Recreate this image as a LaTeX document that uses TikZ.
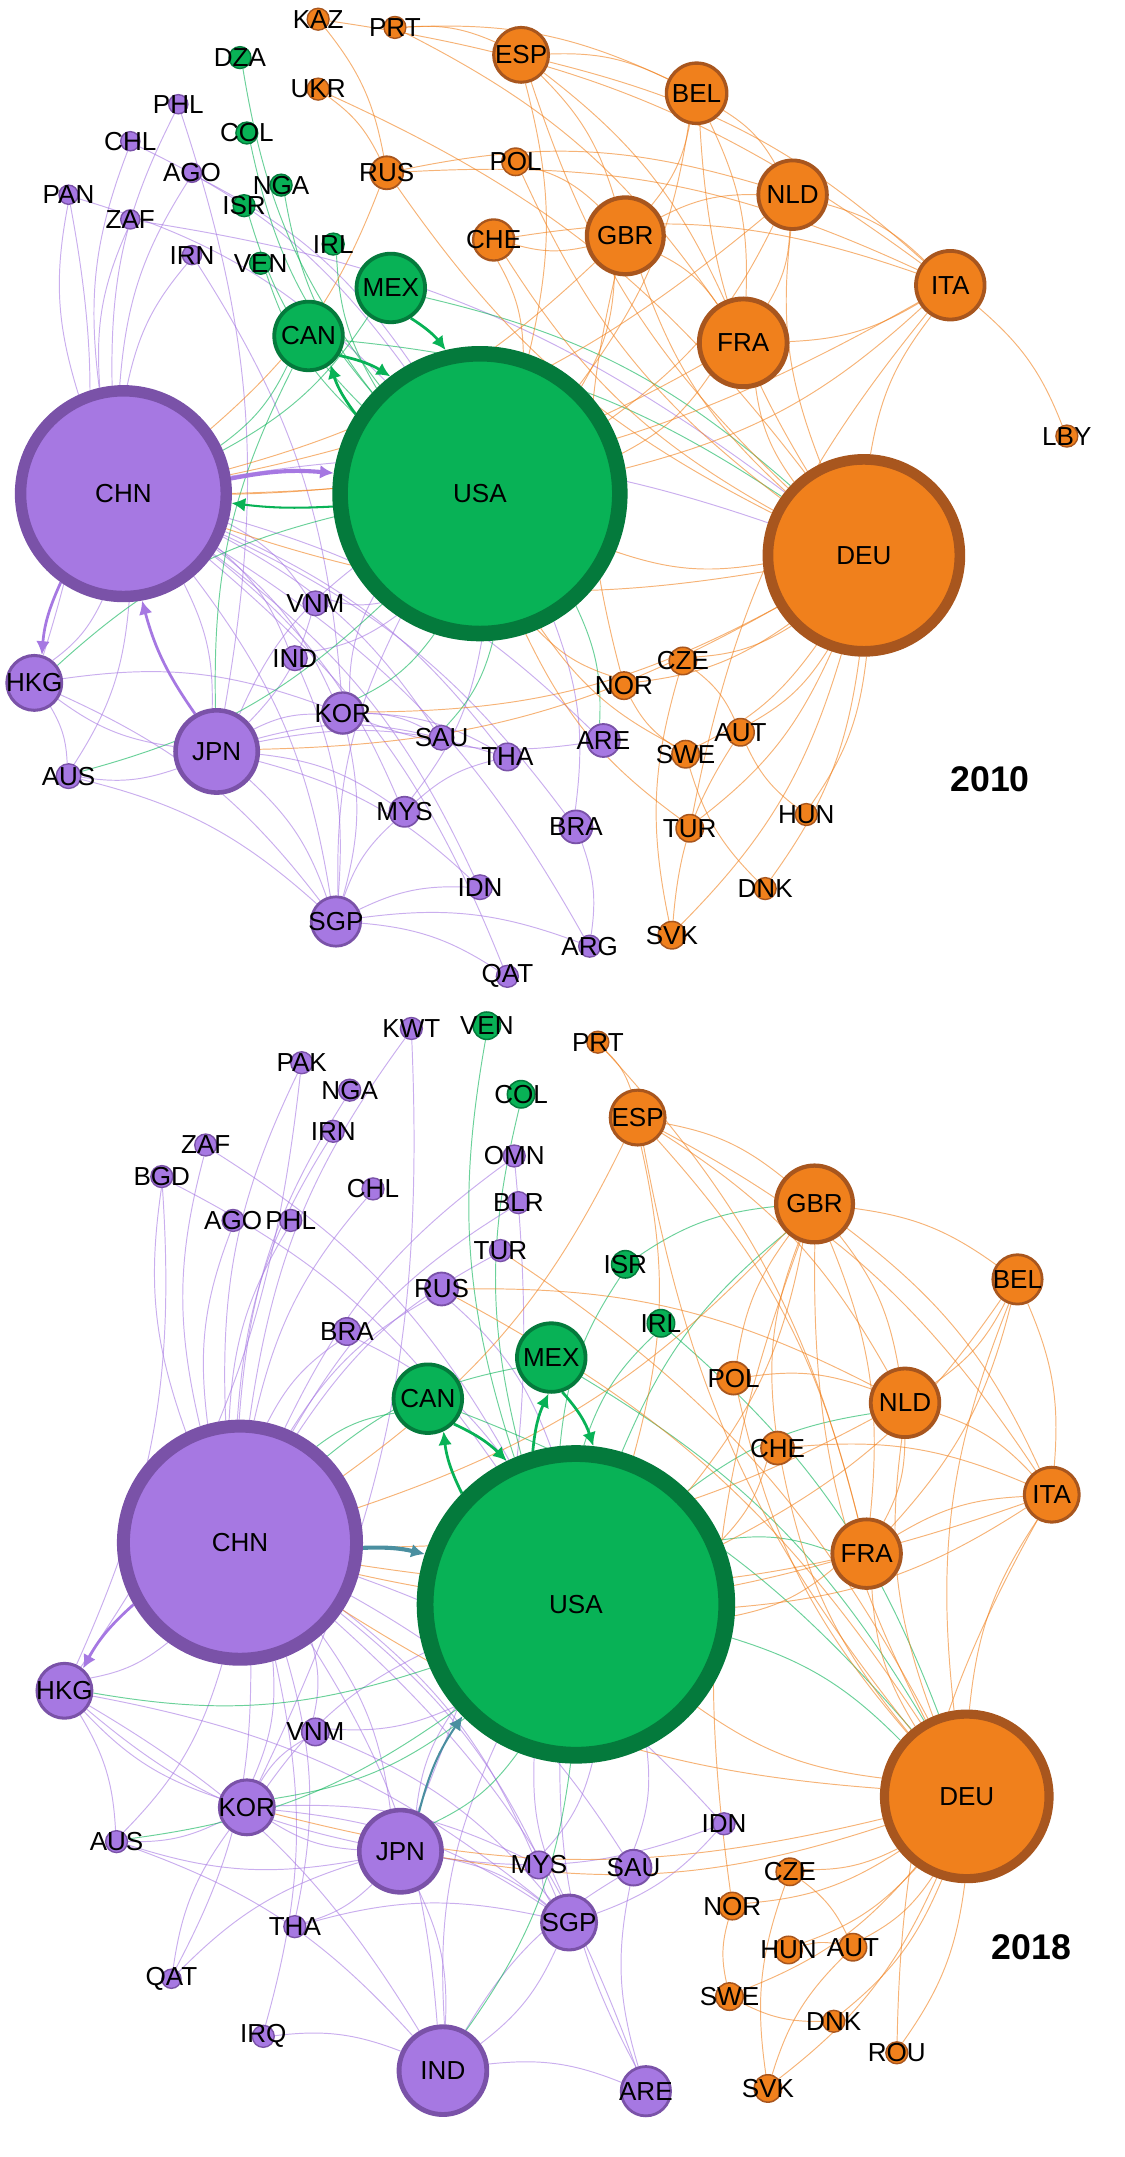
\documentclass[tikz,border=0pt]{standalone}
\usepackage{fontspec}
\setmainfont{Liberation Sans}
\usetikzlibrary{arrows.meta}
\pgfdeclarelayer{bg}\pgfsetlayers{bg,main}
\definecolor{pf}{HTML}{A678E2}\definecolor{pb}{HTML}{7A52A8}
\definecolor{gf}{HTML}{08B256}\definecolor{gb}{HTML}{047A3C}
\definecolor{of}{HTML}{F0801C}\definecolor{ob}{HTML}{A8561E}
\definecolor{te}{HTML}{4A8FA0}
\tikzset{
 every label/.style={font=\fontsize{19}{19}\selectfont,text=black,inner sep=0pt},
 nd/.style={circle,inner sep=0pt},
 pn/.style={nd,fill=pf,draw=pb},
 gn/.style={nd,fill=gf,draw=gb},
 on/.style={nd,fill=of,draw=ob},
 pe/.style={draw=pf,line width=0.7pt,opacity=0.6},
 oe/.style={draw=of,line width=0.7pt,opacity=0.6},
 ge/.style={draw=gf,line width=0.7pt,opacity=0.6},
 thk/.style={line width=3pt,-{Latex[length=10pt,width=10pt]}},
 yr/.style={font=\fontsize{26}{26}\selectfont\bfseries}
}
\begin{document}
\begin{tikzpicture}[x=1pt,y=-1pt]
\useasboundingbox (0,0) rectangle (820,1573);
% ---------- 2010 nodes
\foreach \n/\x/\y/\r in {CHN/90/360/75,HKG/25/498/20,JPN/158/548/30,AUS/50/566/9,KOR/250/520/15,VNM/230/440/9,IND/215/480/9,SAU/322/538/9,THA/370/552/10,MYS/295/592/11,SGP/245/672/18,IDN/350/647/9,BRA/420/603/12,ARG/430/690/8,QAT/370/712/8,PAN/50/142/7,ZAF/95/160/7,IRN/140/186/7,AGO/140/126/7,CHL/95/103/7,PHL/130/76/7,ARE/440/540/12}
 \node[pn,minimum size=2*\r,line width={max(1,\r/9)},label=center:\n] (a\n) at (\x,\y) {};
\foreach \n/\x/\y/\r in {USA/350/360/102,CAN/225/245/25,MEX/285/210/25,DZA/175/42/8,COL/180/97/8,NGA/205/135/8,ISR/178/150/8,IRL/243/178/8,VEN/190/192/8}
 \node[gn,minimum size=2*\r,line width={max(1,\r/9)},label=center:\n] (a\n) at (\x,\y) {};
\foreach \n/\x/\y/\r in {DEU/630/405/70,FRA/542/250/32,GBR/456/172/28,NLD/578/142/25,ITA/693/208/25,BEL/508/68/22,ESP/380/40/20,CHE/360/175/15,POL/376/118/10,RUS/282/126/12,UKR/232/65/8,KAZ/232/14/8,PRT/288/20/8,LBY/778/318/8,CZE/498/482/10,NOR/455/500/10,AUT/540/534/10,SWE/500/550/10,TUR/503/604/10,HUN/588/594/8,DNK/558/648/8,SVK/490/682/10}
 \node[on,minimum size=2*\r,line width={max(1,\r/9)},label=center:\n] (a\n) at (\x,\y) {};
\node[yr] (y1) at (722,568) {2010};
% ---------- 2010 edges
\begin{pgfonlayer}{bg}
\foreach \s/\t in {CHN/HKG,CHN/JPN,CHN/AUS,CHN/KOR,CHN/VNM,CHN/IND,CHN/SAU,CHN/THA,CHN/MYS,CHN/SGP,CHN/IDN,CHN/BRA,CHN/PAN,CHN/ZAF,CHN/IRN,CHN/AGO,CHN/CHL,CHN/PHL,CHN/ARG,CHN/QAT,CHN/ARE,JPN/HKG,JPN/AUS,JPN/KOR,JPN/SGP,JPN/MYS,JPN/THA,JPN/USA,HKG/AUS,HKG/SGP,KOR/SGP,KOR/USA,SGP/MYS,SGP/IDN,SGP/USA,SGP/QAT,USA/BRA,USA/VNM,USA/IND,USA/MYS,CHN/DEU,JPN/IDN,SGP/ARG,KOR/SAU,CHL/USA,PAN/USA,ZAF/DEU,PAN/HKG,PHL/JPN,AGO/USA,IRN/KOR,ARE/KOR,BRA/ARG,JPN/SAU,KOR/THA,AUS/SGP,HKG/KOR,MYS/THA,IND/SGP,VNM/JPN}
  \draw[pe] (a\s) to[bend left=14] (a\t);
\foreach \s/\t in {USA/COL,USA/NGA,USA/ISR,USA/IRL,USA/VEN,USA/DZA,CAN/CHN,MEX/CHN,USA/KOR,USA/SAU,JPN/CAN,HKG/USA,CAN/DEU,MEX/DEU,USA/ARE,USA/AUS}
  \draw[ge] (a\s) to[bend left=14] (a\t);
\foreach \s/\t in {DEU/FRA,DEU/GBR,DEU/NLD,DEU/ITA,DEU/BEL,DEU/ESP,DEU/CHE,DEU/POL,DEU/RUS,DEU/CZE,DEU/NOR,DEU/AUT,DEU/SWE,DEU/TUR,DEU/HUN,DEU/DNK,DEU/SVK,DEU/USA,DEU/CHN,ITA/LBY,ESP/BEL,BEL/NLD,NLD/FRA,GBR/FRA,GBR/NLD,ITA/FRA,ESP/FRA,ESP/GBR,ESP/ITA,BEL/FRA,BEL/GBR,NLD/ITA,GBR/USA,FRA/USA,NLD/USA,ITA/USA,CHE/USA,RUS/CHN,RUS/NLD,UKR/RUS,KAZ/RUS,PRT/ESP,PRT/FRA,GBR/CHE,CHE/ITA,CZE/AUT,SWE/NOR,TUR/ITA,SVK/CZE,KAZ/ITA,NOR/GBR,DNK/SWE,HUN/AUT,BEL/USA,ESP/USA,GBR/CHN,FRA/CHN,DEU/JPN,DEU/KOR,NLD/CHN,ITA/CHN,POL/GBR,RUS/ITA,UKR/DEU,PRT/BEL,TUR/USA,SVK/AUT,NOR/USA,SWE/USA}
  \draw[oe] (a\s) to[bend left=14] (a\t);
\draw[thk,pf] (aCHN) to[bend left=8] (aUSA);
\draw[thk,gf,line width=2pt] (aMEX) to[bend left=10] (aUSA);
\draw[thk,gf,line width=2pt] (aCAN) to[bend left=10] (aUSA);
\draw[thk,gf,line width=2pt] (aUSA) to[bend left=10] (aCAN);
\draw[thk,pf,line width=2pt] (aCHN) to[bend right=10] (aHKG);
\draw[thk,pf,line width=2pt] (aJPN) to[bend left=10] (aCHN);
\draw[thk,gf,line width=1.5pt] (aUSA) to[bend left=5] (aCHN);
\end{pgfonlayer}
% ---------- 2018 nodes
\foreach \n/\x/\y/\r in {CHN/175/1125/85,HKG/47/1233/20,KOR/180/1318/20,AUS/85/1343/8,VNM/230/1263/10,JPN/292/1350/30,MYS/393/1360/10,SAU/462/1362/13,THA/215/1405/8,SGP/415/1402/20,QAT/125/1443/7,IRQ/192/1485/8,IND/323/1510/32,ARE/471/1525/18,IDN/528/1330/8,BRA/253/971/10,RUS/322/940/12,TUR/365/912/8,BLR/378/877/8,OMN/375/843/8,CHL/272/867/8,PHL/212/890/8,AGO/170/890/8,BGD/118/858/8,ZAF/150/835/8,IRN/243/825/8,NGA/255/795/8,PAK/220/775/8,KWT/300/750/8}
 \node[pn,minimum size=2*\r,line width={max(1,\r/9)},label=center:\n] (b\n) at (\x,\y) {};
\foreach \n/\x/\y/\r in {USA/420/1170/110,CAN/312/1020/25,MEX/402/990/25,ISR/456/922/10,IRL/482/965/10,COL/380/798/10,VEN/355/748/10}
 \node[gn,minimum size=2*\r,line width={max(1,\r/9)},label=center:\n] (b\n) at (\x,\y) {};
\foreach \n/\x/\y/\r in {DEU/705/1310/60,FRA/632/1133/25,GBR/594/878/28,NLD/660/1023/25,ITA/767/1090/20,BEL/742/933/18,ESP/465/815/20,POL/535/1005/12,CHE/567/1056/12,PRT/436/760/8,CZE/576/1365/10,NOR/534/1390/10,HUN/575/1422/10,AUT/622/1420/10,SWE/532/1456/10,DNK/608/1474/8,ROU/654/1497/8,SVK/560/1523/10}
 \node[on,minimum size=2*\r,line width={max(1,\r/9)},label=center:\n] (b\n) at (\x,\y) {};
\node[yr] (y2) at (752,1420) {2018};
% ---------- 2018 edges
\begin{pgfonlayer}{bg}
\foreach \s/\t in {CHN/HKG,CHN/KOR,CHN/AUS,CHN/VNM,CHN/JPN,CHN/MYS,CHN/SAU,CHN/THA,CHN/SGP,CHN/QAT,CHN/IRQ,CHN/IND,CHN/ARE,CHN/IDN,CHN/BRA,CHN/RUS,CHN/CHL,CHN/PHL,CHN/AGO,CHN/BGD,CHN/ZAF,CHN/IRN,CHN/NGA,CHN/PAK,CHN/KWT,CHN/OMN,CHN/TUR,CHN/BLR,JPN/KOR,JPN/HKG,JPN/AUS,JPN/SGP,JPN/THA,JPN/USA,JPN/IND,KOR/HKG,KOR/AUS,KOR/USA,KOR/VNM,KOR/SGP,SGP/MYS,SGP/IND,SGP/USA,IND/ARE,IND/USA,ARE/SAU,IND/SAU,HKG/AUS,IRQ/IND,QAT/KOR,USA/VNM,USA/MYS,USA/SAU,IDN/SGP,IDN/JPN,ARE/USA,BRA/USA,KWT/KOR,OMN/JPN,PAK/HKG,BGD/USA,HKG/SGP,QAT/JPN,THA/SGP,VNM/SGP,KOR/MYS,RUS/USA,AUS/IND,HKG/IND,BGD/HKG,ZAF/USA}
  \draw[pe] (b\s) to[bend left=14] (b\t);
\foreach \s/\t in {USA/ISR,USA/IRL,USA/COL,USA/VEN,CHN/CAN,CHN/MEX,USA/JPN,USA/KOR,USA/DEU,USA/GBR,USA/FRA,USA/NLD,USA/HKG,USA/IND,USA/AUS,CAN/DEU,MEX/DEU,ISR/GBR,IRL/DEU}
  \draw[ge] (b\s) to[bend left=14] (b\t);
\foreach \s/\t in {DEU/FRA,DEU/GBR,DEU/NLD,DEU/ITA,DEU/BEL,DEU/ESP,DEU/POL,DEU/CHE,DEU/CZE,DEU/NOR,DEU/HUN,DEU/AUT,DEU/SWE,DEU/DNK,DEU/ROU,DEU/SVK,DEU/CHN,DEU/USA,PRT/ESP,ESP/GBR,ESP/FRA,ESP/NLD,ESP/ITA,GBR/NLD,GBR/BEL,GBR/FRA,GBR/ITA,BEL/NLD,BEL/FRA,BEL/ITA,NLD/FRA,NLD/ITA,FRA/ITA,GBR/USA,GBR/CHN,FRA/CHN,NLD/CHN,POL/GBR,CHE/GBR,CHE/ITA,CZE/AUT,SVK/CZE,HUN/AUT,SWE/NOR,ITA/USA,ESP/USA,FRA/USA,TUR/DEU,RUS/DEU,RUS/NLD,PRT/FRA,ROU/ITA,DNK/SWE,NOR/GBR,BEL/USA,DEU/JPN,DEU/KOR,ITA/CHN,ESP/CHN,CHE/USA,POL/NLD,SVK/AUT}
  \draw[oe] (b\s) to[bend left=14] (b\t);
\draw[thk,te] (bCHN) to[bend left=8] (bUSA);
\draw[thk,gf,line width=2pt] (bCAN) to[bend left=10] (bUSA);
\draw[thk,gf,line width=2pt] (bUSA) to[bend left=10] (bCAN);
\draw[thk,gf,line width=2pt] (bMEX) to[bend left=12] (bUSA);
\draw[thk,gf,line width=2pt] (bUSA) to[bend left=10] (bMEX);
\draw[thk,pf,line width=2pt] (bCHN) to[bend right=10] (bHKG);
\draw[thk,te,line width=1.5pt] (bJPN) to[bend left=10] (bUSA);
\end{pgfonlayer}
\end{tikzpicture}
\end{document}
